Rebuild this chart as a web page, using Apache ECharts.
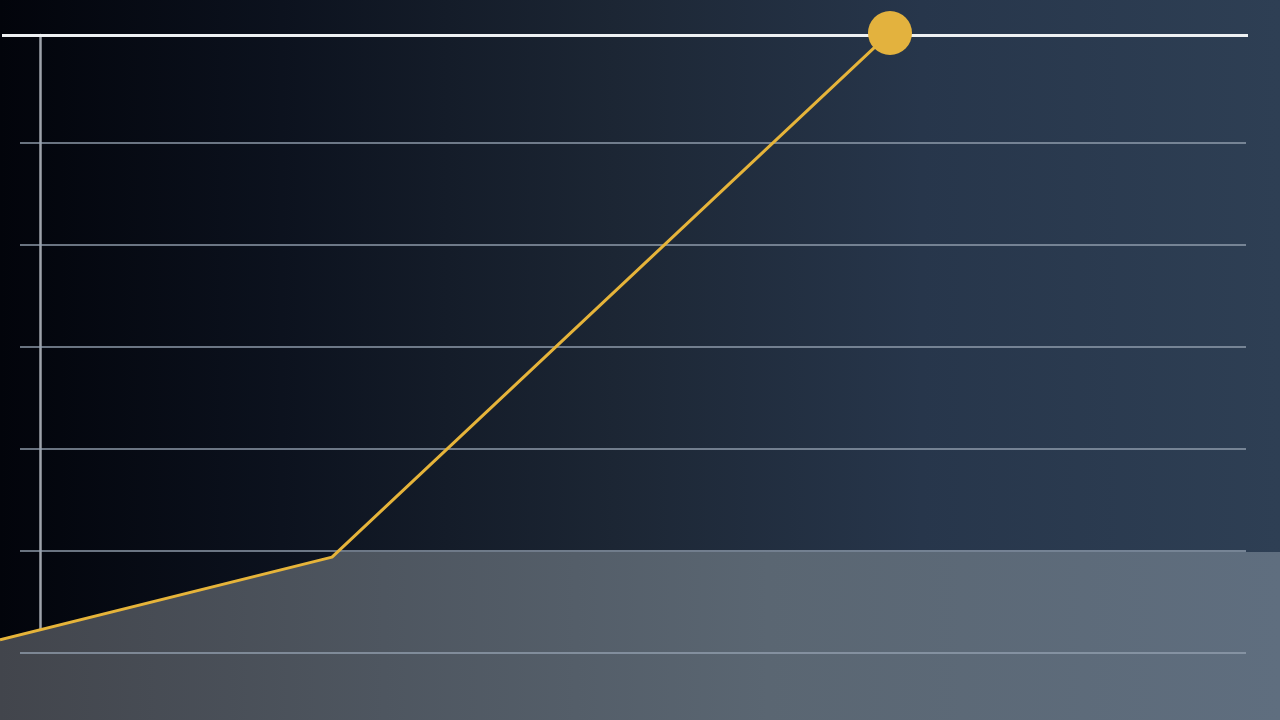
<!DOCTYPE html>
<html>
<head>
<meta charset="utf-8">
<script src="https://cdn.jsdelivr.net/npm/echarts@6/dist/echarts.min.js"></script>
<style>
html,body{margin:0;padding:0;width:1280px;height:720px;overflow:hidden;
background:linear-gradient(90deg,#02040b 0%,#0c121e 22%,#1c2634 48%,#27364b 72%,#2e3f54 100%);}
#chart{width:1280px;height:755px;}
</style>
</head>
<body>
<div id="chart"></div>
<script>
// data
var lineX = [-0.4, 2.92, 8.5];
var lineY = [0.13, 0.94, 6.08];
var floorX = [-0.4, 2.92, 2.98, 12.4];
var floorY = [0.13, 0.94, 0.99, 0.99];
var yTicks = [-1, 0, 1, 2, 3, 4, 5];
var targetY = 6.06;

var linePts = lineX.map(function (x, i) {
  var p = { value: [x, lineY[i]] };
  if (i === lineX.length - 1) { p.symbol = 'circle'; p.symbolSize = 44; }
  return p;
});
var floorPts = floorX.map(function (x, i) { return [x, floorY[i]]; });
var yMin = yTicks[0], yMax = yTicks[yTicks.length - 1];

var chart = echarts.init(document.getElementById('chart'));
chart.setOption({
  backgroundColor: 'transparent',
  animation: false,
  grid: [
    { left: 0, right: 0, top: 35, bottom: 0 },
    { left: 20, right: 34, top: 143, bottom: 0 }
  ],
  xAxis: [{
    gridIndex: 0, type: 'value', min: -0.4, max: 12.4,
    axisLine: { show: false }, axisTick: { show: false },
    axisLabel: { show: false }, splitLine: { show: false }
  }, {
    gridIndex: 1, type: 'value', min: 0, max: 10,
    axisLine: { show: false }, axisTick: { show: false },
    axisLabel: { show: false }, splitLine: { show: false }
  }],
  yAxis: [{
    gridIndex: 0, type: 'value', min: yMin, max: targetY, z: 0,
    axisLine: { show: true, onZero: true, lineStyle: { color: '#9ea3ab', width: 2.5 } },
    axisTick: { show: false }, axisLabel: { show: false }, splitLine: { show: false }
  }, {
    gridIndex: 1, type: 'value', min: yMin, max: yMax, interval: 1, z: 3,
    axisLine: { show: false }, axisTick: { show: false }, axisLabel: { show: false },
    splitLine: { show: true, lineStyle: { color: 'rgba(150,162,178,0.7)', width: 2 } }
  }],
  series: [{
    type: 'line', z: 1, silent: true, xAxisIndex: 0, yAxisIndex: 0,
    data: floorPts, symbol: 'none',
    lineStyle: { width: 0, opacity: 0 },
    areaStyle: {
      opacity: 1, origin: 'start',
      color: new echarts.graphic.LinearGradient(0, 0, 1, 0, [
        { offset: 0, color: '#42454c' },
        { offset: 0.3, color: '#4e5660' },
        { offset: 0.6, color: '#5a6672' },
        { offset: 1, color: '#5f6e7f' }
      ])
    }
  }, {
    type: 'line', z: 5, clip: false, silent: true, xAxisIndex: 0, yAxisIndex: 0,
    data: linePts, symbol: 'none', showSymbol: true,
    lineStyle: { color: '#e6b43a', width: 3 },
    itemStyle: { color: '#e3b23e' },
    markLine: {
      silent: true, symbol: 'none', z: 4,
      lineStyle: { color: '#eef1f3', width: 3, type: 'solid' },
      label: { show: false },
      data: [[{ coord: [-0.38, targetY] }, { coord: [12.08, targetY] }]]
    }
  }]
});
</script>
</body>
</html>
